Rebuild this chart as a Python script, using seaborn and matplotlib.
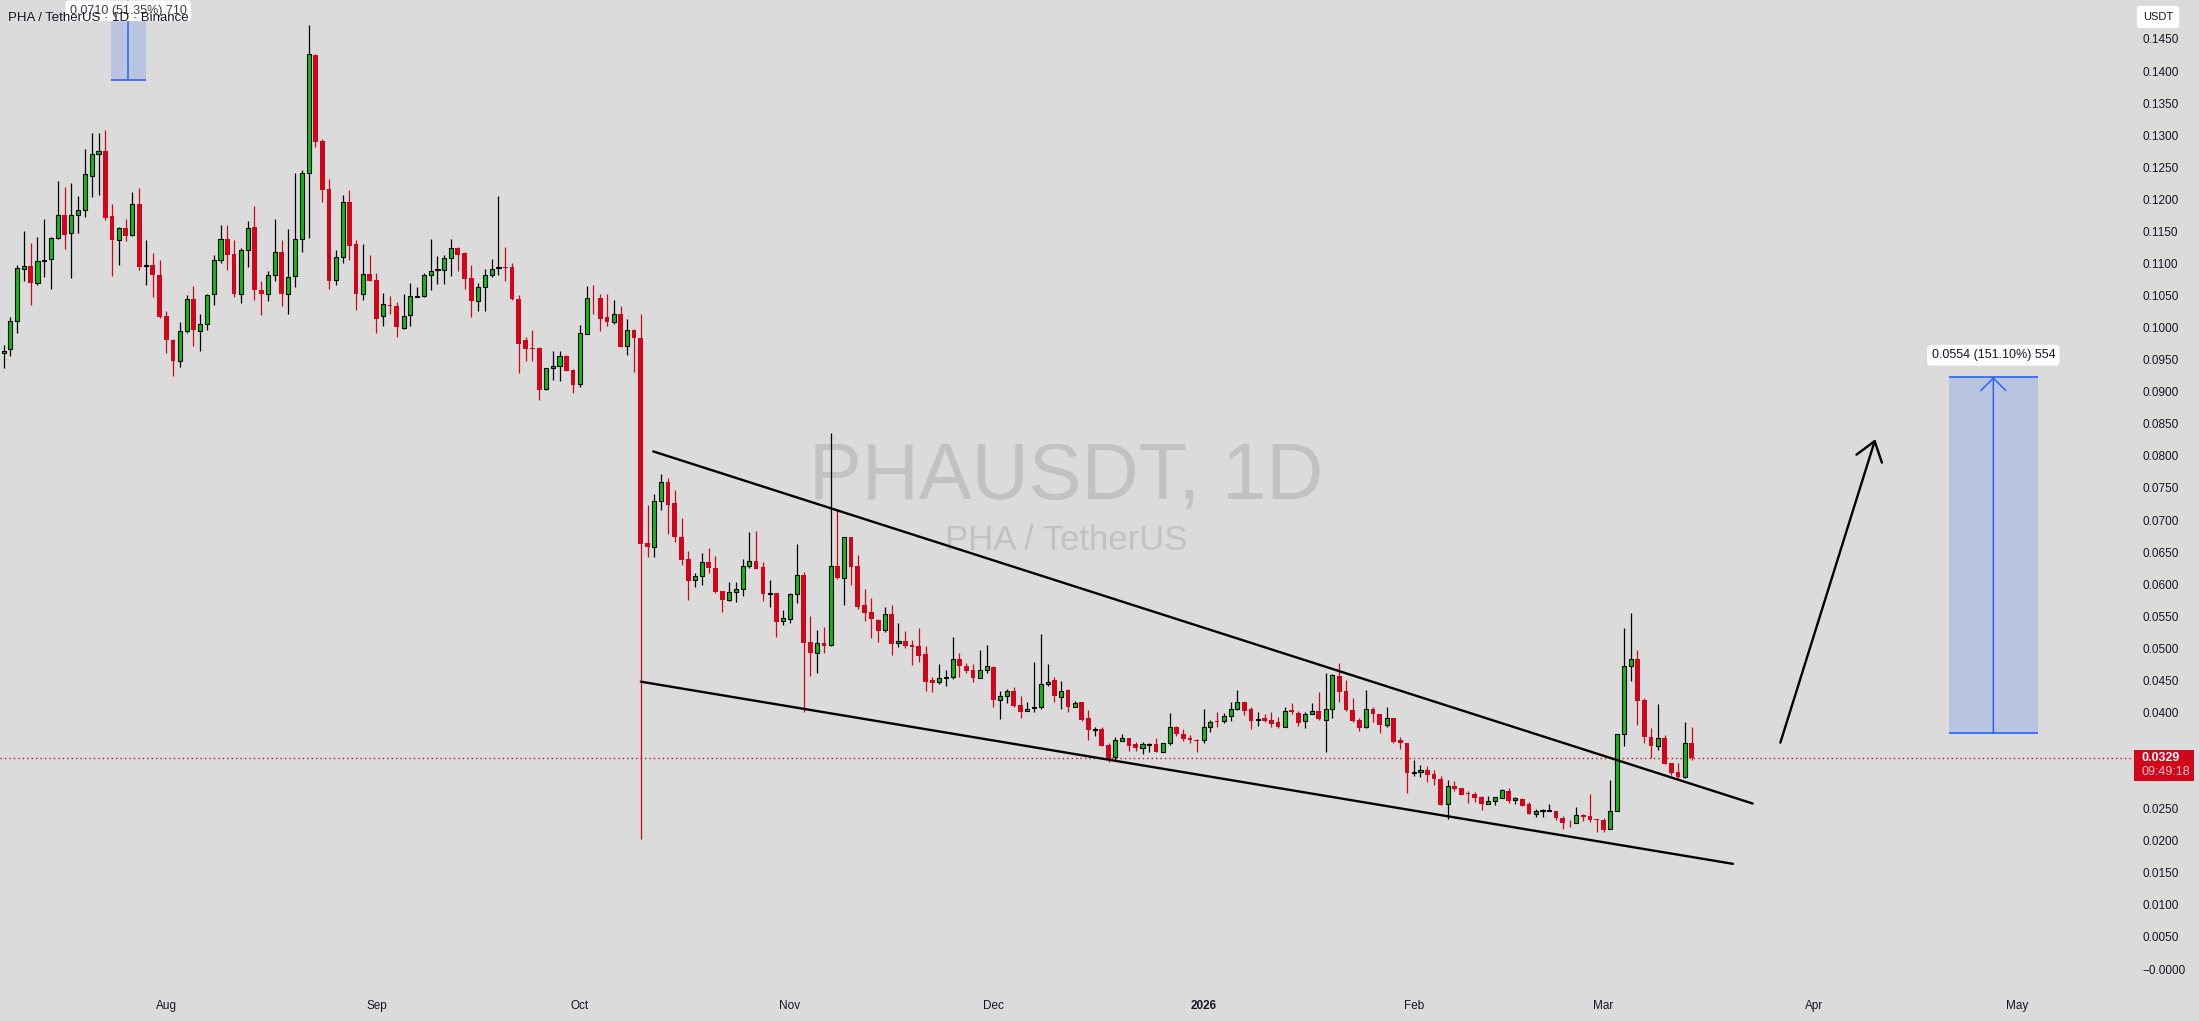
import numpy as np
import pandas as pd
import matplotlib
matplotlib.use("Agg")
import matplotlib.pyplot as plt
import matplotlib.dates as mdates
import matplotlib.transforms as mtransforms
from matplotlib.patches import Rectangle
from matplotlib.ticker import FixedLocator, FuncFormatter
import seaborn as sns

# daily candles PHA/USDT, first candle on 2025-07-08
first_day = "2025-07-08"

opens = [
    .0960, .0966, .1011, .1092, .1096, .1070, .1104, .1107, .1140, .1176,
    .1147, .1175, .1184, .1237, .1270, .1275, .1174, .1136, .1155, .1144,
    .1193, .1096, .1097, .1082, .1018, .0981, .0948, .0994, .1044, .0995,
    .1005, .1052, .1105, .1138, .1115, .1053, .1121, .1157, .1059, .1053,
    .1082, .1118, .1052, .1081, .1138, .1241, .1425, .1291, .1216, .1074,
    .1110, .1196, .1130, .1052, .1083, .1074, .1018, .1035, .1034, .0999,
    .1019, .1048, .1049, .1082, .1090, .1090, .1109, .1124, .1116, .1077,
    .1042, .1063, .1082, .1093, .1094, .1094, .1044, .0980, .0968, .0968,
    .0905, .0937, .0940, .0956, .0934, .0912, .0990, .1045, .1046, .1016,
    .1008, .1021, .0971, .0997, .0984, .0664, .0658, .0729, .0759, .0726,
    .0673, .0639, .0606, .0612, .0634, .0625, .0590, .0575, .0588, .0592,
    .0628, .0636, .0627, .0584, .0586, .0542, .0545, .0585, .0615, .0510,
    .0493, .0508, .0505, .0628, .0609, .0673, .0628, .0567, .0556, .0544,
    .0528, .0553, .0508, .0511, .0505, .0504, .0491, .0451, .0447, .0453,
    .0455, .0484, .0472, .0466, .0454, .0466, .0471, .0419, .0425, .0433,
    .0412, .0402, .0407, .0409, .0444, .0451, .0424, .0435, .0409, .0416,
    .0391, .0373, .0375, .0349, .0330, .0356, .0360, .0351, .0345, .0350,
    .0351, .0339, .0353, .0377, .0367, .0360, .0357, .0357, .0377, .0386,
    .0386, .0395, .0406, .0416, .0405, .0389, .0391, .0388, .0385, .0378,
    .0404, .0399, .0386, .0397, .0402, .0389, .0406, .0457, .0433, .0404,
    .0388, .0377, .0405, .0397, .0381, .0392, .0357, .0353, .0306, .0307,
    .0311, .0304, .0297, .0258, .0285, .0282, .0274, .0273, .0268, .0258,
    .0262, .0266, .0278, .0264, .0265, .0257, .0241, .0246, .0247, .0247,
    .0236, .0228, .0227, .0240, .0238, .0233, .0232, .0218, .0247, .0367,
    .0473, .0483, .0419, .0362, .0347, .0360, .0321, .0307, .0300, .0353,
]
highs = [
    .0973, .1017, .1097, .1150, .1132, .1142, .1169, .1142, .1229, .1220,
    .1226, .1205, .1279, .1303, .1303, .1308, .1193, .1157, .1169, .1212,
    .1217, .1137, .1116, .1106, .1026, .0982, .1009, .1051, .1065, .1022,
    .1052, .1113, .1160, .1160, .1137, .1124, .1166, .1190, .1072, .1089,
    .1169, .1137, .1153, .1241, .1246, .1472, .1426, .1294, .1231, .1121,
    .1207, .1215, .1136, .1130, .1113, .1085, .1054, .1049, .1040, .1053,
    .1069, .1064, .1085, .1138, .1111, .1113, .1138, .1125, .1118, .1098,
    .1069, .1091, .1107, .1205, .1125, .1100, .1051, .0986, .0997, .0970,
    .0937, .0963, .0963, .0958, .0936, .1004, .1065, .1066, .1052, .1052,
    .1043, .1033, .1013, .0998, .1022, .0723, .0741, .0772, .0765, .0747,
    .0703, .0652, .0618, .0648, .0656, .0644, .0590, .0603, .0603, .0640,
    .0681, .0683, .0634, .0606, .0586, .0560, .0587, .0663, .0619, .0550,
    .0529, .0534, .0836, .0718, .0673, .0674, .0646, .0592, .0578, .0546,
    .0564, .0567, .0540, .0527, .0513, .0532, .0504, .0455, .0476, .0466,
    .0517, .0492, .0477, .0476, .0497, .0505, .0472, .0433, .0437, .0440,
    .0425, .0416, .0479, .0522, .0475, .0455, .0449, .0437, .0418, .0416,
    .0404, .0378, .0377, .0352, .0362, .0366, .0360, .0354, .0354, .0353,
    .0360, .0353, .0399, .0379, .0375, .0365, .0358, .0405, .0388, .0401,
    .0399, .0416, .0435, .0416, .0409, .0400, .0398, .0401, .0393, .0408,
    .0415, .0402, .0400, .0415, .0432, .0461, .0460, .0477, .0451, .0422,
    .0391, .0435, .0409, .0397, .0408, .0392, .0362, .0353, .0326, .0318,
    .0316, .0310, .0301, .0295, .0293, .0282, .0277, .0276, .0269, .0270,
    .0268, .0281, .0282, .0268, .0266, .0260, .0249, .0249, .0258, .0247,
    .0239, .0232, .0252, .0241, .0273, .0234, .0236, .0294, .0367, .0531,
    .0555, .0497, .0423, .0376, .0413, .0365, .0321, .0321, .0385, .0378,
]
lows = [
    .0937, .0956, .0992, .1073, .1035, .1067, .1079, .1061, .1138, .1122,
    .1077, .1148, .1173, .1204, .1207, .1168, .1080, .1097, .1135, .1143,
    .1090, .1066, .1047, .1015, .0960, .0924, .0938, .0991, .0972, .0964,
    .0996, .1035, .1100, .1090, .1047, .1038, .1095, .1043, .1020, .1041,
    .1073, .1033, .1022, .1064, .1118, .1139, .1282, .1196, .1060, .1066,
    .1101, .1105, .1027, .1043, .1072, .0992, .1003, .1022, .0986, .0998,
    .1002, .1047, .1047, .1058, .1068, .1068, .1081, .1089, .1061, .1016,
    .1026, .1026, .1079, .1082, .1072, .1043, .0929, .0948, .0948, .0887,
    .0903, .0918, .0917, .0932, .0898, .0908, .0990, .1022, .0994, .1003,
    .1006, .0970, .0958, .0931, .0203, .0643, .0642, .0715, .0679, .0665,
    .0630, .0575, .0596, .0598, .0618, .0587, .0556, .0574, .0573, .0582,
    .0625, .0623, .0574, .0565, .0518, .0537, .0540, .0571, .0400, .0457,
    .0461, .0492, .0504, .0608, .0568, .0599, .0562, .0543, .0516, .0510,
    .0526, .0490, .0502, .0501, .0474, .0478, .0434, .0432, .0444, .0442,
    .0452, .0456, .0462, .0448, .0454, .0462, .0409, .0390, .0414, .0408,
    .0392, .0402, .0401, .0406, .0442, .0417, .0406, .0400, .0408, .0386,
    .0357, .0364, .0347, .0322, .0325, .0356, .0340, .0340, .0335, .0338,
    .0338, .0339, .0349, .0363, .0356, .0353, .0339, .0353, .0369, .0378,
    .0384, .0386, .0404, .0396, .0374, .0379, .0385, .0378, .0376, .0377,
    .0397, .0379, .0376, .0397, .0388, .0339, .0392, .0417, .0402, .0385,
    .0371, .0376, .0385, .0368, .0378, .0352, .0343, .0275, .0301, .0300,
    .0292, .0287, .0256, .0234, .0278, .0272, .0259, .0260, .0248, .0258,
    .0256, .0266, .0259, .0257, .0254, .0241, .0237, .0237, .0247, .0232,
    .0219, .0221, .0227, .0231, .0230, .0213, .0213, .0218, .0247, .0347,
    .0449, .0380, .0353, .0329, .0342, .0320, .0303, .0296, .0298, .0326,
]
closes = [
    .0964, .1010, .1093, .1096, .1070, .1104, .1106, .1140, .1176, .1145,
    .1176, .1183, .1239, .1270, .1275, .1171, .1136, .1155, .1143, .1193,
    .1094, .1098, .1082, .1017, .0980, .0948, .0994, .1044, .0996, .1006,
    .1051, .1105, .1138, .1114, .1052, .1121, .1156, .1059, .1052, .1082,
    .1118, .1052, .1079, .1138, .1241, .1426, .1290, .1215, .1073, .1110,
    .1196, .1128, .1052, .1083, .1073, .1014, .1037, .1033, .1001, .1018,
    .1050, .1049, .1082, .1088, .1091, .1108, .1124, .1114, .1076, .1042,
    .1063, .1082, .1091, .1094, .1093, .1044, .0974, .0966, .0967, .0903,
    .0937, .0940, .0955, .0933, .0911, .0991, .1046, .1044, .1014, .1008,
    .1021, .0970, .0997, .0984, .0663, .0658, .0730, .0759, .0724, .0673,
    .0637, .0605, .0612, .0634, .0625, .0588, .0575, .0588, .0592, .0628,
    .0636, .0624, .0585, .0586, .0541, .0547, .0585, .0615, .0509, .0493,
    .0508, .0504, .0628, .0609, .0673, .0627, .0564, .0555, .0546, .0527,
    .0553, .0507, .0511, .0504, .0502, .0488, .0448, .0446, .0453, .0455,
    .0484, .0473, .0465, .0454, .0466, .0472, .0420, .0426, .0433, .0410,
    .0401, .0406, .0408, .0444, .0448, .0425, .0433, .0408, .0414, .0389,
    .0373, .0374, .0348, .0328, .0357, .0360, .0348, .0345, .0351, .0351,
    .0338, .0353, .0377, .0367, .0358, .0357, .0356, .0377, .0385, .0385,
    .0395, .0406, .0416, .0403, .0387, .0390, .0387, .0382, .0378, .0403,
    .0400, .0384, .0397, .0402, .0390, .0406, .0458, .0432, .0404, .0387,
    .0376, .0406, .0398, .0381, .0392, .0354, .0353, .0306, .0307, .0311,
    .0303, .0297, .0256, .0285, .0281, .0272, .0273, .0267, .0258, .0262,
    .0268, .0279, .0262, .0266, .0254, .0241, .0246, .0247, .0248, .0235,
    .0227, .0227, .0240, .0237, .0232, .0232, .0216, .0247, .0367, .0473,
    .0483, .0418, .0361, .0347, .0360, .0320, .0306, .0299, .0353, .0329,
]

month_ticks = ["2025-08-01", "2025-09-01", "2025-10-01", "2025-11-01", "2025-12-01",
               "2026-01-01", "2026-02-01", "2026-03-01", "2026-04-01", "2026-05-01"]
month_labels = ["Aug", "Sep", "Oct", "Nov", "Dec", "2026", "Feb", "Mar", "Apr", "May"]

# drawings on the chart
upper_wedge_dates = ["2025-10-11 20:00", "2026-03-23 00:00"]
upper_wedge_prices = [0.0807, 0.0258]
lower_wedge_dates = ["2025-10-10 00:00", "2026-03-20 02:00"]
lower_wedge_prices = [0.0448, 0.0164]
arrow_dates = ["2026-03-27 02:00", "2026-04-10 02:00"]
arrow_prices = [0.0353, 0.0826]

target_box_dates = ["2026-04-20 22:00", "2026-05-04 02:00"]
target_box_prices = [0.0368, 0.0923]
target_label = "0.0554 (151.10%) 554"
past_box_dates = ["2025-07-23 19:00", "2025-07-29 00:00"]
past_box_prices = [0.1386, 0.2096]
past_label = "0.0710 (51.35%) 710"

last_price = 0.0329
countdown = "09:49:18"

BG = "#dbdbdb"
GREEN = "#0abf0a"
RED = "#d1061b"
BLUE = "#2962ff"
INK = "#131722"

sns.set_theme(style="white", rc={"axes.facecolor": BG, "figure.facecolor": BG})
plt.rcParams["font.family"] = ["Liberation Sans", "DejaVu Sans"]

fig = plt.figure(figsize=(21.99, 10.21), dpi=100)
ax = fig.add_axes([0, 31 / 1021, 2133 / 2199, 990 / 1021])

x = mdates.date2num(pd.date_range(first_day, periods=len(closes), freq="D"))
o = np.array(opens)
h = np.array(highs)
l = np.array(lows)
c = np.array(closes)
up = c >= o
body_lo = np.minimum(o, c)
body_h = np.maximum(np.abs(c - o), 0.00014)

# wicks
ax.vlines(x[up], l[up], h[up], color="black", lw=0.9, zorder=2)
ax.vlines(x[~up], l[~up], h[~up], color=RED, lw=0.9, zorder=2)
# bodies
ax.bar(x[up], body_h[up], bottom=body_lo[up], width=0.6, color=GREEN,
       edgecolor="black", linewidth=0.8, zorder=3)
ax.bar(x[~up], body_h[~up], bottom=body_lo[~up], width=0.7, color=RED,
       linewidth=0, zorder=3)

# falling wedge
for dates, prices in [(upper_wedge_dates, upper_wedge_prices),
                      (lower_wedge_dates, lower_wedge_prices)]:
    sns.lineplot(x=mdates.date2num(pd.to_datetime(dates)), y=prices, ax=ax,
                 color="black", lw=1.7, zorder=4)

ax_dates = mdates.date2num(pd.to_datetime(arrow_dates))
ax.annotate("", xy=(ax_dates[1], arrow_prices[1]), xytext=(ax_dates[0], arrow_prices[0]),
            arrowprops=dict(arrowstyle="->,head_length=1.1,head_width=0.8",
                            color="black", lw=1.7, shrinkA=0, shrinkB=0), zorder=4)

# last price line
ax.axhline(last_price, color=RED, lw=1, ls=(0, (1, 2.2)), zorder=1.5)

# measurement boxes
tb = mdates.date2num(pd.to_datetime(target_box_dates))
tmid = tb.mean()
ax.add_patch(Rectangle((tb[0], target_box_prices[0]), tb[1] - tb[0],
                       target_box_prices[1] - target_box_prices[0],
                       facecolor=BLUE, alpha=0.19, lw=0, zorder=1.2))
ax.hlines(target_box_prices, tb[0], tb[1], color=BLUE, lw=1.2, zorder=2)
ax.annotate("", xy=(tmid, target_box_prices[1]), xytext=(tmid, target_box_prices[0]),
            arrowprops=dict(arrowstyle="->,head_length=0.75,head_width=0.75",
                            color=BLUE, lw=1.1, shrinkA=0, shrinkB=0), zorder=2)
ax.text(tmid, 0.0957, target_label, ha="center", va="center", fontsize=9, color=INK,
        bbox=dict(boxstyle="round,pad=0.35,rounding_size=0.3", fc="white", ec="none"),
        zorder=6)

pb = mdates.date2num(pd.to_datetime(past_box_dates))
pmid = pb.mean()
ax.add_patch(Rectangle((pb[0], past_box_prices[0]), pb[1] - pb[0],
                       past_box_prices[1] - past_box_prices[0],
                       facecolor=BLUE, alpha=0.19, lw=0, zorder=1.2))
ax.hlines(past_box_prices[0], pb[0], pb[1], color=BLUE, lw=1.2, zorder=2)
ax.vlines(pmid, past_box_prices[0], past_box_prices[1], color=BLUE, lw=1.1, zorder=2)
ax.text(pmid, 0.1494, past_label, ha="center", va="center", fontsize=9, color="#3a3d45",
        bbox=dict(boxstyle="round,pad=0.35,rounding_size=0.3", fc="white", ec="none"),
        zorder=6, clip_on=False)

# watermark
ax.text(0.5, 0.496, "PHAUSDT, 1D", transform=ax.transAxes, ha="center", va="baseline",
        fontsize=57, color="#c2c2c2", zorder=0.5)
ax.text(0.5, 0.4444, "PHA / TetherUS", transform=ax.transAxes, ha="center", va="baseline",
        fontsize=25, color="#c2c2c2", zorder=0.5)

# axes
ax.set_xlim(x[0] - 0.53, x[0] + 314.1)
ax.set_ylim(-0.00327, 0.15108)
for s in ax.spines.values():
    s.set_visible(False)
ax.grid(False)

ax.set_xticks(mdates.date2num(pd.to_datetime(month_ticks)))
ax.set_xticklabels(month_labels)
ax.get_xticklabels()[5].set_fontweight("bold")
ax.tick_params(axis="x", length=0, pad=7, labelsize=8.5, labelcolor=INK)


def price_label(v, pos):
    if abs(v) < 1e-9:
        return "\u22120.0000"
    # the last price tag sits over this level on the scale
    if abs(v - last_price) < 0.0025:
        return ""
    return f"{v:.4f}"


ax.yaxis.tick_right()
ax.yaxis.set_major_locator(FixedLocator(np.round(np.arange(0, 0.1451, 0.005), 4)))
ax.yaxis.set_major_formatter(FuncFormatter(price_label))
ax.tick_params(axis="y", length=0, pad=6.5, labelsize=8.5, labelcolor=INK)
ax.set_xlabel("")
ax.set_ylabel("")

# last price tag on the scale
blend = mtransforms.blended_transform_factory(fig.transFigure, ax.transData)
ax.add_patch(Rectangle((2134 / 2199, 0.02936), 60 / 2199, 0.00478, transform=blend,
                       facecolor=RED, lw=0, clip_on=False, zorder=7))
ax.text(2142 / 2199, last_price, f"{last_price:.4f}", transform=blend, ha="left",
        va="center", fontsize=9, color="white", fontweight="bold", clip_on=False, zorder=8)
ax.text(2142 / 2199, 0.03071, countdown, transform=blend, ha="left", va="center",
        fontsize=9, color="#f5c3c8", clip_on=False, zorder=8)

fig.text(2158 / 2199, 1 - 17 / 1021, "USDT", ha="center", va="center", fontsize=8,
         color=INK, bbox=dict(boxstyle="round,pad=0.55,rounding_size=0.3", fc="white", ec="none"))
fig.text(8 / 2199, 1 - 21 / 1021, "PHA / TetherUS \u00b7 1D \u00b7 Binance", ha="left",
         va="baseline", fontsize=9.5, color=INK, zorder=10)

fig.savefig("out.png", dpi=100, facecolor=BG)
